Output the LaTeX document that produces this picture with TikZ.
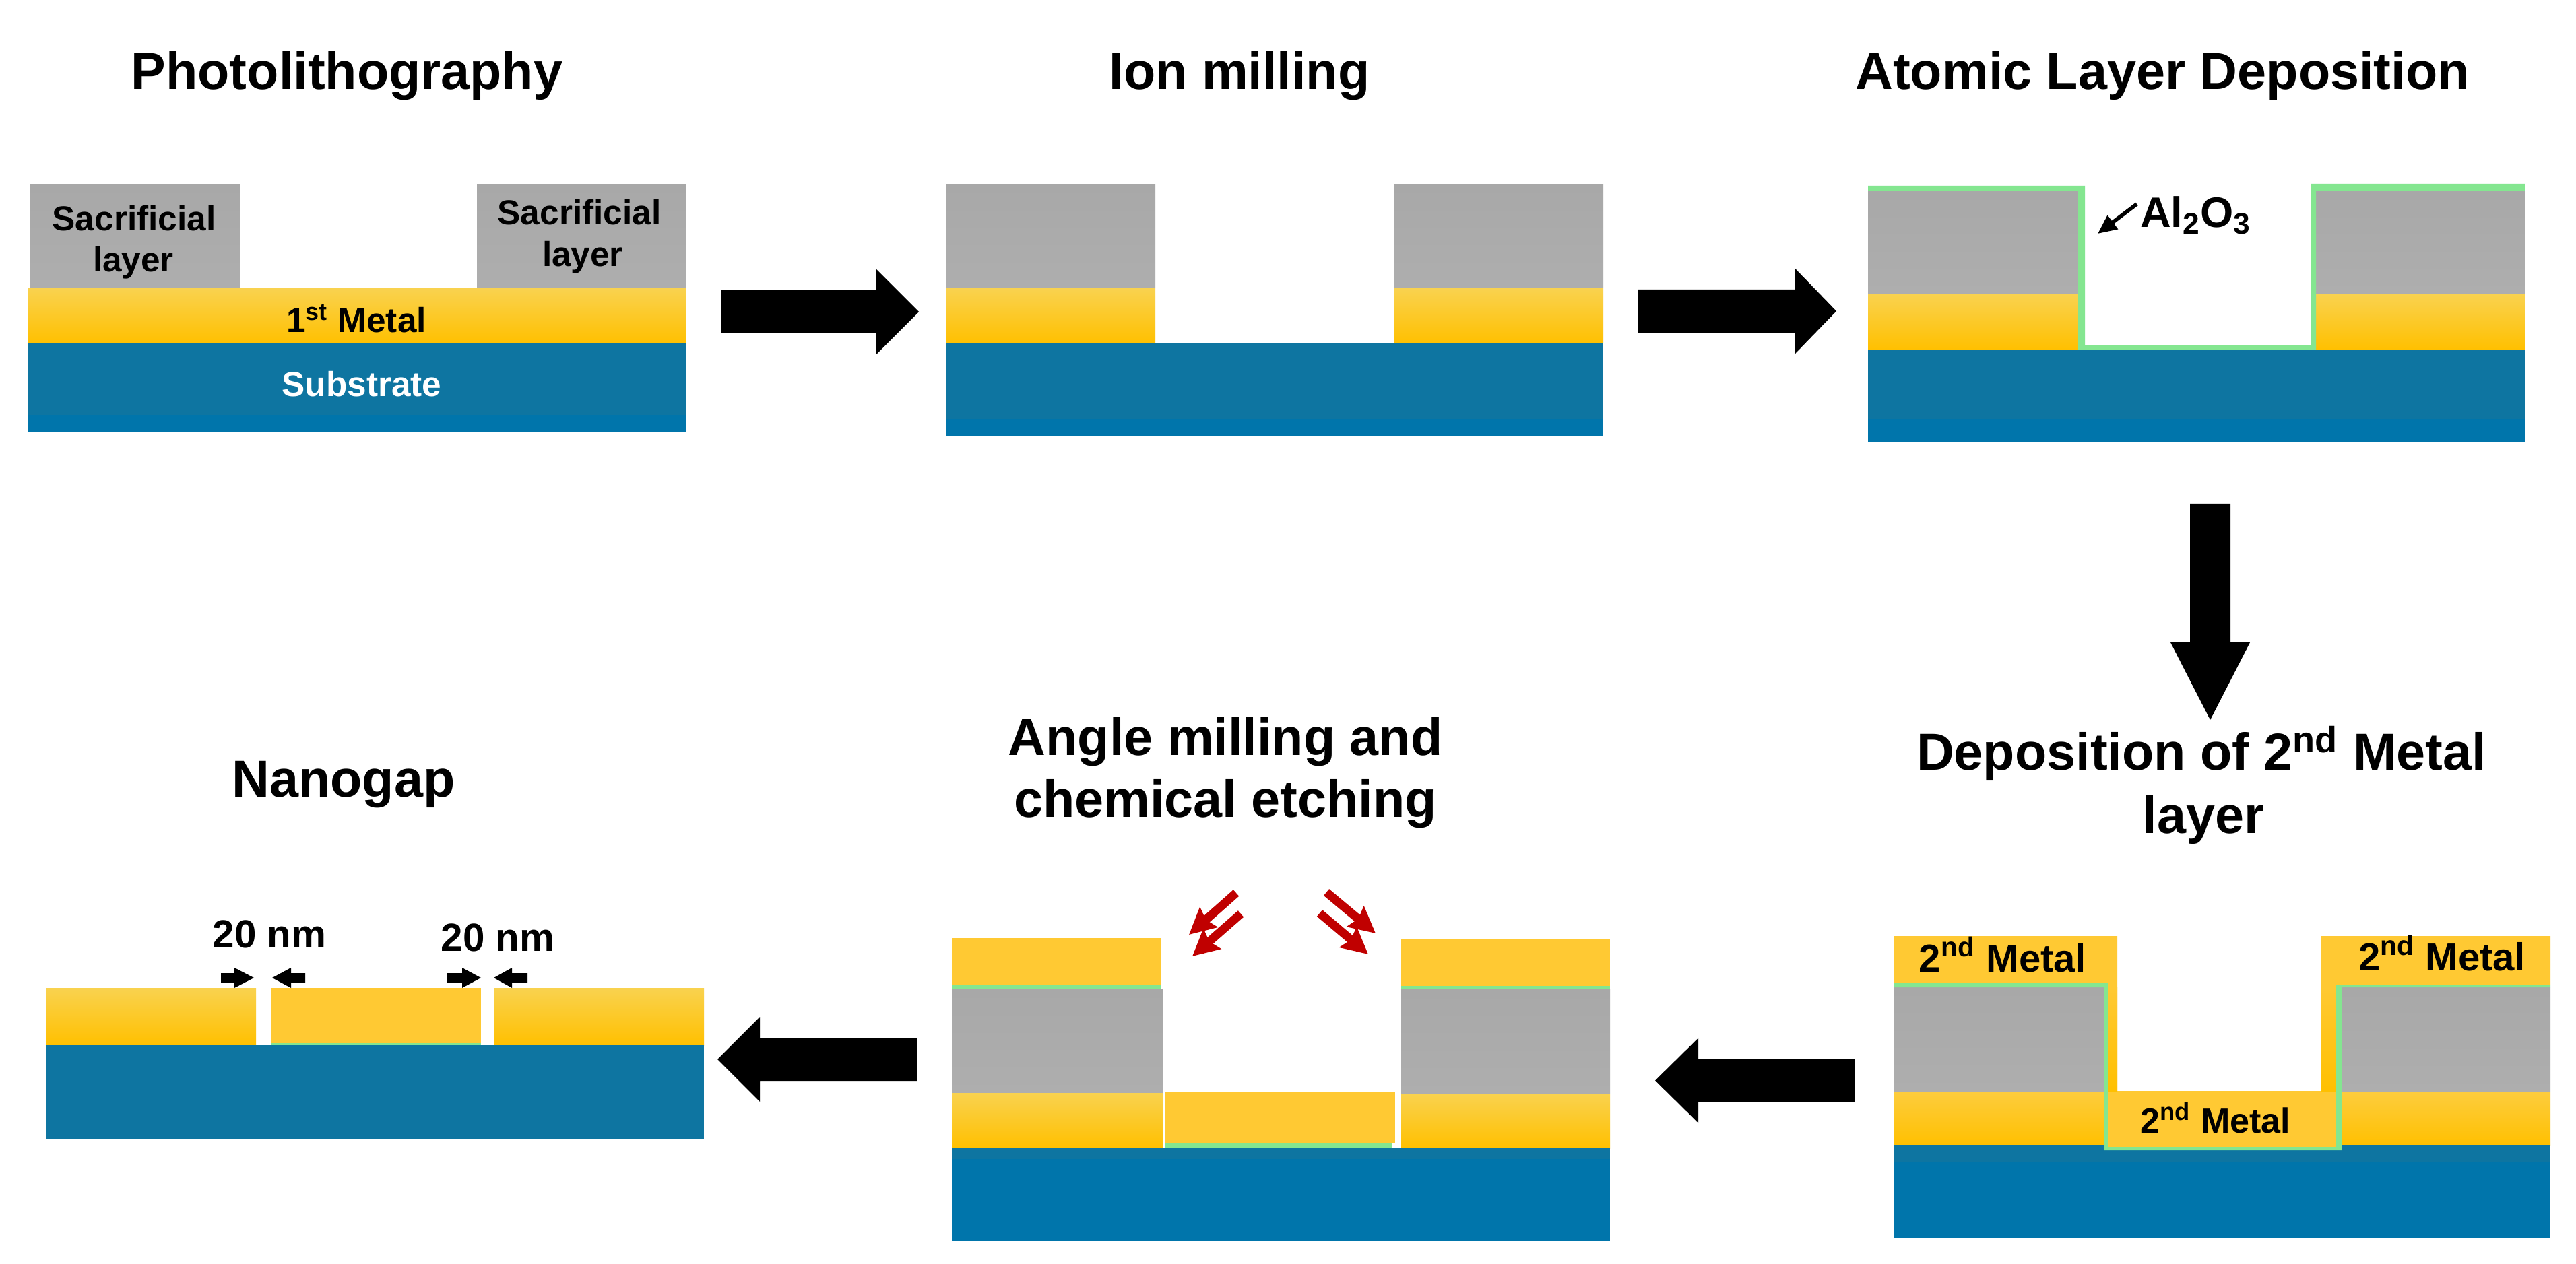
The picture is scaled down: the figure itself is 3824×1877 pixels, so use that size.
\documentclass[tikz,border=0pt]{standalone}
\usepackage{fontspec}
\setmainfont{Liberation Sans}
\usetikzlibrary{arrows.meta}
\definecolor{grayA}{HTML}{A8A8A8}
\definecolor{grayB}{HTML}{AEAEAE}
\definecolor{subA}{HTML}{0E75A1}
\definecolor{subB}{HTML}{0075AB}
\definecolor{metA}{HTML}{F9D24F}
\definecolor{metB}{HTML}{FFC000}
\definecolor{metC}{HTML}{FFC933}
\definecolor{alox}{HTML}{84E690}
\definecolor{ionred}{HTML}{C00000}
\tikzset{
  lbl/.style={inner sep=0pt,outer sep=0pt,anchor=base,align=center},
  title/.style={lbl,font=\fontsize{22}{26}\selectfont\bfseries},
  sac/.style={lbl,font=\fontsize{14.6}{17}\selectfont\bfseries},
  metlbl/.style={lbl,font=\fontsize{16.5}{19}\selectfont\bfseries},
  gaplbl/.style={lbl,font=\fontsize{16.6}{19}\selectfont\bfseries},
  ionarrow/.style={draw=ionred,line width=3.6pt,-{Stealth[length=11pt,width=11pt,inset=1.5pt]}}
}
% gray block x1 y1 x2 y2
\newcommand\graybox[4]{\shade[top color=grayA,bottom color=grayB] (#1,#2) rectangle (#3,#4);}
% metal block
\newcommand\metbox[4]{\shade[top color=metA,bottom color=metB] (#1,#2) rectangle (#3,#4);}
% substrate x1 y1 x2 y2 ytransition
\newcommand\subbox[5]{\fill[subB] (#1,#2) rectangle (#3,#4);\fill[subA] (#1,#2) rectangle (#3,#5);}
% horizontal block arrow: tail, base of head, tip, y centre, shaft half, head half
\newcommand\harrow[6]{\fill[black] (#1,#4-#5) -- (#2,#4-#5) -- (#2,#4-#6) -- (#3,#4) -- (#2,#4+#6) -- (#2,#4+#5) -- (#1,#4+#5) -- cycle;}
\begin{document}
\begin{tikzpicture}[x=0.01cm,y=-0.01cm]
\useasboundingbox (0,0) rectangle (3824,1877);
\fill[white] (0,0) rectangle (3824,1877);

% ---------- titles
\node[title] (t1) at (515,133) {Photolithography};
\node[title] (t2) at (1840,133) {Ion milling};
\node[title] (t3) at (3210,133) {Atomic Layer Deposition};
\node[title] (t4a) at (3268,1144) {Deposition of 2\textsuperscript{nd} Metal};
\node[title] (t4b) at (3271,1238) {layer};
\node[title] (t5a) at (1819,1122) {Angle milling and};
\node[title] (t5b) at (1819,1214) {chemical etching};
\node[title] (t6) at (510,1184) {Nanogap};

% ---------- panel 1: photolithography
\graybox{45}{274}{356}{428}
\graybox{708}{274}{1018}{428}
\metbox{42}{428}{1018}{510}
\subbox{42}{510}{1018}{641}{617}
\node[sac] (s1a) at (199,343) {Sacrificial};
\node[sac] (s1b) at (198,404) {layer};
\node[sac] (s2a) at (860,334) {Sacrificial};
\node[sac] (s2b) at (865,396) {layer};
\node[lbl,font=\fontsize{14.6}{17}\selectfont\bfseries] (m1) at (529,494) {1\textsuperscript{st} Metal};
\node[lbl,text=white,font=\fontsize{14.6}{17}\selectfont\bfseries] (sub1) at (537,589) {Substrate};

% ---------- panel 2: ion milling
\graybox{1405}{274}{1715}{428}
\graybox{2070}{274}{2380}{428}
\metbox{1405}{428}{1715}{510}
\metbox{2070}{428}{2380}{510}
\subbox{1405}{510}{2380}{647}{622}

% ---------- panel 3: ALD
\graybox{2773}{284}{3085}{437}
\graybox{3438}{284}{3748}{437}
\metbox{2773}{437}{3085}{519}
\metbox{3438}{437}{3748}{519}
\subbox{2773}{519}{3748}{657}{622}
\fill[alox] (2773,276) -- (3095,276) -- (3095,513) -- (3430,513) -- (3430,273) -- (3748,273)
  -- (3748,284) -- (3438,284) -- (3438,519) -- (3085,519) -- (3085,284) -- (2773,284) -- cycle;
\coordinate (alA) at (3172,303);
\coordinate (alB) at (3114,347);
\draw[line width=1.6pt,-{Triangle[length=8pt,width=7pt]}] (alA) -- (alB);
\node[lbl,anchor=base west,font=\fontsize{18}{22}\selectfont\bfseries] (al) at (3177,338) {Al\textsubscript{2}O\textsubscript{3}};

% ---------- panel 4: second metal
\shade[top color=metA!40!metC,bottom color=metB] (2811,1620) rectangle (3124,1701);
\shade[top color=metA!40!metC,bottom color=metB] (3476,1621) rectangle (3786,1701);
\subbox{2811}{1701}{3786}{1839}{1725}
\graybox{2811}{1466}{3124}{1620}
\graybox{3476}{1466}{3786}{1621}
\fill[metC] (2811,1390) -- (3143,1390) -- (3143,1620) -- (3446,1620) -- (3446,1390) -- (3786,1390)
  -- (3786,1462) -- (3468,1462) -- (3468,1704) -- (3129,1704) -- (3129,1459) -- (2811,1459) -- cycle;
\shade[top color=metC,bottom color=metB] (3129,1466) rectangle (3143,1620);
\shade[top color=metC,bottom color=metB] (3446,1466) rectangle (3468,1620);
\fill[alox] (2811,1459) -- (3129,1459) -- (3129,1704) -- (3468,1704) -- (3468,1462) -- (3786,1462)
  -- (3786,1466) -- (3476,1466) -- (3476,1708) -- (3124,1708) -- (3124,1466) -- (2811,1466) -- cycle;
\node[metlbl] (m2a) at (2973,1443) {2\textsuperscript{nd} Metal};
\node[metlbl] (m2b) at (3625,1441) {2\textsuperscript{nd} Metal};
\node[lbl,font=\fontsize{14.8}{17}\selectfont\bfseries] (m2c) at (3289,1682) {2\textsuperscript{nd} Metal};

% ---------- panel 5: angle milling
\fill[metC] (1413,1393) rectangle (1724,1462);
\fill[metC] (2080,1394) rectangle (2390,1464);
\fill[alox] (1413,1462) rectangle (1724,1469);
\fill[alox] (2080,1464) rectangle (2390,1469);
\graybox{1413}{1469}{1726}{1623}
\graybox{2080}{1469}{2390}{1624}
\metbox{1413}{1623}{1726}{1705}
\metbox{2080}{1624}{2390}{1705}
\fill[metC] (1730,1622) rectangle (2071,1698);
\fill[alox] (1730,1698) rectangle (2067,1705);
\subbox{1413}{1705}{2390}{1843}{1721}
\coordinate (r1s) at (1835,1326); \coordinate (r1e) at (1765,1388);
\coordinate (r2s) at (1842,1357); \coordinate (r2e) at (1770,1420);
\coordinate (r3s) at (1969,1325); \coordinate (r3e) at (2042,1386);
\coordinate (r4s) at (1959,1356); \coordinate (r4e) at (2031,1417);
\draw[ionarrow] (r1s) -- (r1e);
\draw[ionarrow] (r2s) -- (r2e);
\draw[ionarrow] (r3s) -- (r3e);
\draw[ionarrow] (r4s) -- (r4e);

% ---------- panel 6: nanogap
\metbox{69}{1467}{380}{1552}
\fill[metC] (402,1467) rectangle (714,1549);
\fill[alox] (402,1549) rectangle (714,1552);
\metbox{733}{1467}{1045}{1552}
\fill[subA] (69,1552) rectangle (1045,1691);
\node[gaplbl] (g1) at (400,1407) {20 nm};
\node[gaplbl] (g2) at (739,1412) {20 nm};
\harrow{328}{348}{377}{1452}{6.8}{15}
\harrow{453}{432}{404}{1452}{6.8}{15}
\harrow{663}{686}{714}{1452}{6.8}{15}
\harrow{783}{760}{733}{1452}{6.8}{15}

% ---------- process arrows
\harrow{1070}{1301}{1364}{463}{32}{63}
\harrow{2432}{2665}{2726}{462}{32}{63}
\fill[black] (3251,748) -- (3311,748) -- (3311,954) -- (3340,954) -- (3281,1069) -- (3222,954) -- (3251,954) -- cycle;
\harrow{2753}{2521}{2457}{1604.5}{31.5}{63}
\harrow{1361}{1128}{1065}{1573}{32}{63}
\end{tikzpicture}
\end{document}
